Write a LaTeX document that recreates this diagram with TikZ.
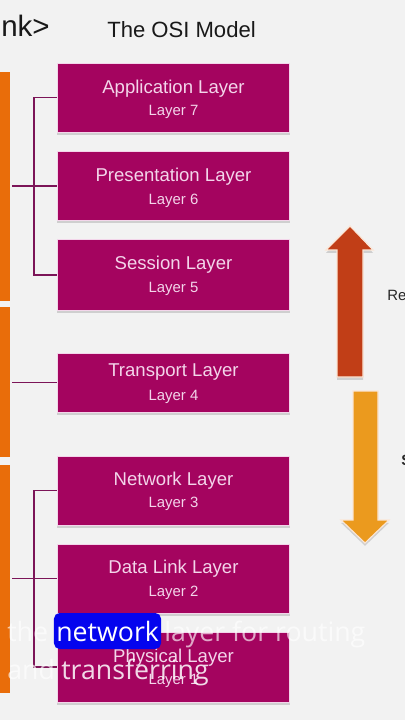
\documentclass[tikz,border=0pt]{standalone}
\usepackage{fontspec}
\setmainfont{Liberation Sans}
\newfontfamily\capfont{Open Sans}
\usetikzlibrary{shadows}
\definecolor{pagegray}{HTML}{F2F2F2}
\definecolor{layerpurple}{HTML}{A4045F}
\definecolor{layeredge}{HTML}{F3D5EA}
\definecolor{barline}{HTML}{7C1558}
\definecolor{barorange}{HTML}{E96D0A}
\definecolor{uparrow}{HTML}{C13E17}
\definecolor{downarrow}{HTML}{EB9A1E}
\definecolor{edgecream}{HTML}{FBE6D6}
\definecolor{capblue}{HTML}{0404EE}

\begin{document}
\begin{tikzpicture}[
  x=0.025cm,y=-0.025cm,
  layerbox/.style={rectangle,draw=layeredge,line width=0.7pt,fill=layerpurple,minimum width=5.82cm,inner sep=0pt,
    drop shadow={shadow xshift=0.3pt,shadow yshift=-2pt,opacity=0.3}},
  layername/.style={font=\fontsize{13.2}{15}\selectfont,text=layeredge},
  layernum/.style={font=\fontsize{10.6}{13}\selectfont,text=layeredge},
  sidebar/.style={rectangle,fill=barorange,inner sep=0pt,minimum width=0.25cm},
  busline/.style={draw=barline,line width=1pt},
  bigarrow/.style={draw=edgecream,line width=0.8pt,drop shadow={shadow xshift=0pt,shadow yshift=-2pt,opacity=0.3}},
  capline/.style={font=\capfont\fontsize{19}{22}\selectfont,inner sep=0pt,anchor=base west},
  capfaint/.style={capline,text=white,text opacity=0.65}
]
  \clip (0,0) rectangle (405,720);
  \fill[pagegray] (0,0) rectangle (405,720);

  \node[font=\fontsize{15.7}{18}\selectfont,text=black!90] (title) at (181.5,30) {The OSI Model};
  \node[font=\fontsize{21}{24}\selectfont,text=black!90,anchor=base east,inner sep=0pt] (logo) at (50,37) {nk>};

  \node[sidebar,minimum height=5.725cm] (bar1) at (5,186.5) {};
  \node[sidebar,minimum height=3.75cm] (bar2) at (5,382) {};
  \node[sidebar,minimum height=5.7cm] (bar3) at (5,579) {};

  \coordinate (bus1) at (34,186);
  \coordinate (bus2) at (34,578.5);
  \coordinate (tap1) at (12,186);
  \coordinate (tap2) at (12,382.5);
  \coordinate (tap3) at (12,578.5);

  \node[layerbox,minimum height=1.725cm] (l7) at (173.5,97.8) {};
  \node[layerbox,minimum height=1.7cm] (l6) at (173.5,186) {};
  \node[layerbox,minimum height=1.75cm] (l5) at (173.5,275) {};
  \node[layerbox,minimum height=1.475cm] (l4) at (173.5,382.5) {};
  \node[layerbox,minimum height=1.725cm] (l3) at (173.5,490.5) {};
  \node[layerbox,minimum height=1.725cm] (l2) at (173.5,578.5) {};
  \node[layerbox,minimum height=1.75cm] (l1) at (173.5,667) {};

  \draw[busline] (l7.west) -| (bus1);
  \draw[busline] (bus1) |- (l5.west);
  \draw[busline] (tap1) -- (l6.west);
  \draw[busline] (tap2) -- (l4.west);
  \draw[busline] (l3.west) -| (bus2);
  \draw[busline] (bus2) |- (l1.west);
  \draw[busline] (tap3) -- (l2.west);

  \node[layername] (n7) at (173.5,88.5) {Application Layer};
  \node[layernum] (m7) at (173.5,112) {Layer 7};
  \node[layername] (n6) at (173.5,177) {Presentation Layer};
  \node[layernum] (m6) at (173.5,200.5) {Layer 6};
  \node[layername] (n5) at (173.5,264.5) {Session Layer};
  \node[layernum] (m5) at (173.5,288.5) {Layer 5};
  \node[layername] (n4) at (173.5,372.5) {Transport Layer};
  \node[layernum] (m4) at (173.5,396.5) {Layer 4};
  \node[layername] (n3) at (173.5,480.5) {Network Layer};
  \node[layernum] (m3) at (173.5,504) {Layer 3};
  \node[layername] (n2) at (173.5,568.5) {Data Link Layer};
  \node[layernum] (m2) at (173.5,592.5) {Layer 2};
  \node[layername] (n1) at (173.5,657.5) {Physical Layer};
  \node[layernum] (m1) at (173.5,681) {Layer 1};

  \draw[bigarrow,fill=uparrow] (337,377) -- (337,250) -- (326,250) -- (350,226) -- (373,250) -- (363,250) -- (363,377) -- cycle;
  \draw[bigarrow,fill=downarrow] (353,391) -- (353,520) -- (341,520) -- (365,543) -- (389,520) -- (378,520) -- (378,391) -- cycle;

  \node[font=\fontsize{10.6}{13}\selectfont,text=black!85,anchor=base west,inner sep=0pt] (re) at (387,301) {Re};
  \node[font=\fontsize{10.6}{13}\selectfont\bfseries,text=black!85,anchor=base west,inner sep=0pt] (sw) at (401,465) {S};

  \node[rectangle,rounded corners=4pt,fill=capblue,minimum width=2.675cm,minimum height=0.9cm,inner sep=0pt] (hl) at (107.5,631) {};
  \node[capfaint] (cap1) at (7,641) {the};
  \node[capline,text=white] (cap2) at (56,641) {network};
  \node[capfaint] (cap3) at (164,641) {layer for routing};
  \node[capfaint] (cap4) at (7,679) {and};
  \node[capline,text=white,text opacity=0.85] (cap5) at (61,679) {transferring};
\end{tikzpicture}
\end{document}
